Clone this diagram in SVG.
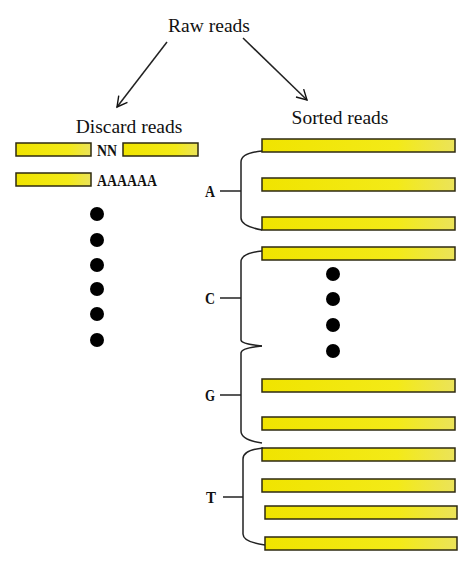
<svg xmlns="http://www.w3.org/2000/svg" width="474" height="567" viewBox="0 0 474 567">
<defs>
<linearGradient id="yel" x1="0" y1="0" x2="1" y2="0">
<stop offset="0" stop-color="#f0e400"/>
<stop offset="0.7" stop-color="#f3ea18"/>
<stop offset="1" stop-color="#ebe35a"/>
</linearGradient>
<marker id="arr" markerWidth="14" markerHeight="14" refX="12" refY="7" orient="auto" markerUnits="userSpaceOnUse">
<path d="M2,1.5 L12,7 L2,12.5" fill="none" stroke="#111" stroke-width="1.4"/>
</marker>
<style>
.bar{fill:url(#yel);stroke:#2e2a10;stroke-width:1.5}
.t{font-family:"Liberation Serif",serif;fill:#111}
.m{font-family:"Liberation Serif",serif;font-weight:bold;fill:#111;font-size:17.5px}
.ln{fill:none;stroke:#222;stroke-width:1.5}
.dot{fill:#000}
</style>
</defs>
<rect width="474" height="567" fill="#fff"/>

<g id="raw-reads"><text class="t" x="209" y="32" font-size="19.5" text-anchor="middle">Raw reads</text></g>

<g id="discard-reads">
<text class="t" x="129" y="133" font-size="19.5" text-anchor="middle">Discard reads</text>
<rect class="bar" x="16" y="143" width="75" height="13"/>
<text class="m" x="97" y="156" textLength="20" lengthAdjust="spacingAndGlyphs">NN</text>
<rect class="bar" x="123" y="143" width="75" height="13"/>
<rect class="bar" x="16" y="173" width="75" height="13"/>
<text class="m" x="97" y="186" textLength="60" lengthAdjust="spacingAndGlyphs">AAAAAA</text>
<circle class="dot" cx="97" cy="214" r="7"/>
<circle class="dot" cx="97" cy="240" r="7"/>
<circle class="dot" cx="97" cy="265" r="7"/>
<circle class="dot" cx="97" cy="289" r="7"/>
<circle class="dot" cx="97" cy="314" r="7"/>
<circle class="dot" cx="97" cy="340" r="7"/>
</g>

<g id="sorted-reads">
<text class="t" x="340" y="124" font-size="19.5" text-anchor="middle">Sorted reads</text>
</g>

<g id="group-A">
<rect class="bar" x="262" y="139" width="193" height="13"/>
<rect class="bar" x="262" y="178" width="193" height="13"/>
<rect class="bar" x="262" y="217" width="193" height="13"/>
<path class="ln" d="M262,151 Q241,153 241,162 L241,218 Q241,226 262,230"/>
<path class="ln" d="M220,191 H241"/>
<text class="m" x="210" y="197" text-anchor="middle" textLength="10" lengthAdjust="spacingAndGlyphs">A</text>
</g>

<g id="group-C">
<rect class="bar" x="262" y="247" width="193" height="13"/>
<circle class="dot" cx="333" cy="274" r="7"/>
<circle class="dot" cx="333" cy="299" r="7"/>
<circle class="dot" cx="333" cy="325" r="7"/>
<circle class="dot" cx="333" cy="351" r="7"/>
<path class="ln" d="M262,251 Q241,253 241,262 L241,340 Q241,344 262,346"/>
<path class="ln" d="M220,298 H241"/>
<text class="m" x="210" y="304" text-anchor="middle" textLength="10" lengthAdjust="spacingAndGlyphs">C</text>
</g>

<g id="group-G">
<rect class="bar" x="262" y="379" width="193" height="13"/>
<rect class="bar" x="262" y="417" width="193" height="13"/>
<path class="ln" d="M262,346 Q241,348 241,353 L241,431 Q241,440 262,443"/>
<path class="ln" d="M220,395 H241"/>
<text class="m" x="210" y="401" text-anchor="middle" textLength="10" lengthAdjust="spacingAndGlyphs">G</text>
</g>

<g id="group-T">
<rect class="bar" x="262" y="448" width="193" height="13"/>
<rect class="bar" x="262" y="479" width="193" height="13"/>
<rect class="bar" x="265" y="506" width="192" height="13"/>
<rect class="bar" x="265" y="537" width="192" height="13"/>
<path class="ln" d="M263,448 Q243,450 243,459 L243,534 Q243,542 265,545"/>
<path class="ln" d="M223,497 H243"/>
<text class="m" x="211" y="503" text-anchor="middle" textLength="10" lengthAdjust="spacingAndGlyphs">T</text>
</g>

<g id="connectors">
<path class="ln" d="M167,42 L117,107" marker-end="url(#arr)"/>
<path class="ln" d="M243,38 L307,100" marker-end="url(#arr)"/>
</g>
</svg>
